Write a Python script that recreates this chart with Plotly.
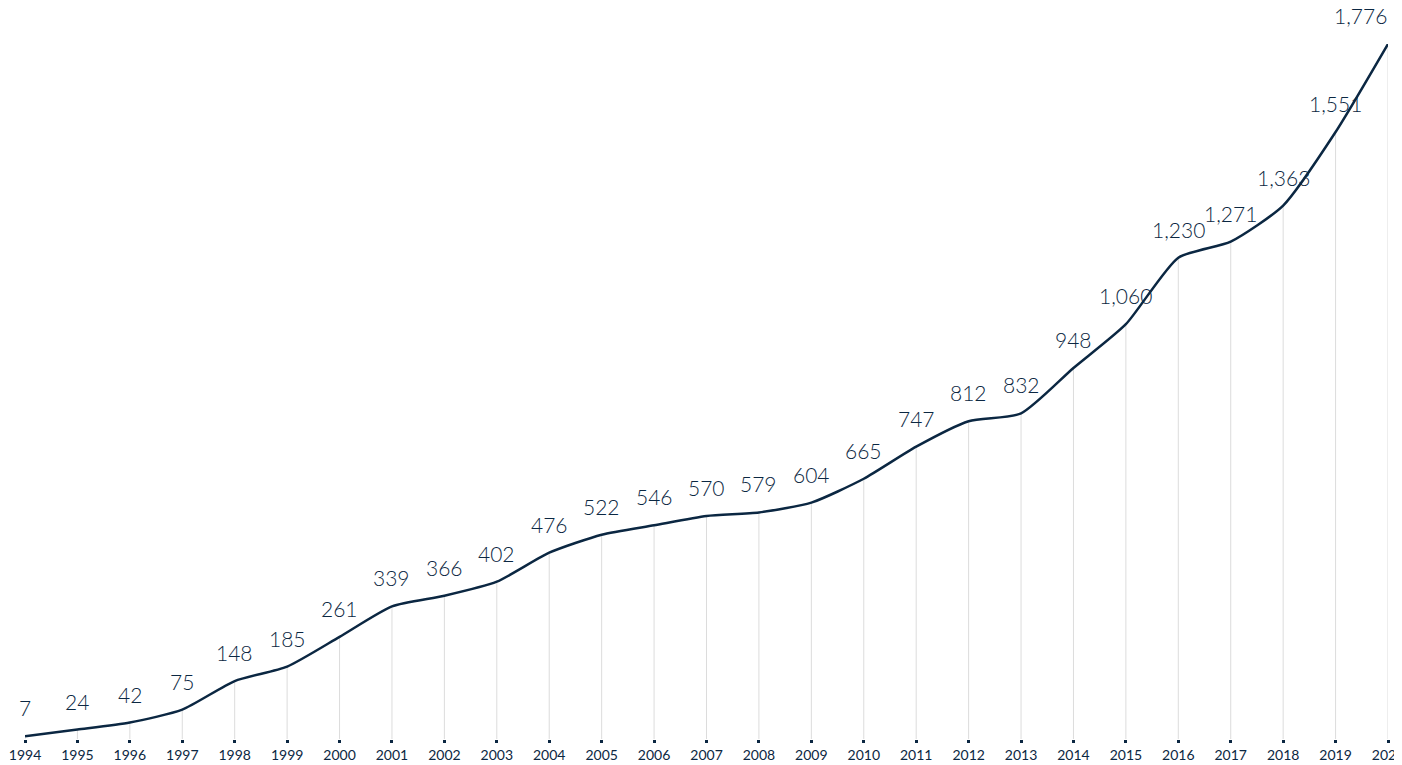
import plotly.graph_objects as go

years = list(range(1994, 2021))
values = [7, 24, 42, 75, 148, 185, 261, 339, 366, 402, 476, 522, 546, 570, 579, 604,
          665, 747, 812, 832, 948, 1060, 1230, 1271, 1363, 1551, 1776]
labels = [f"{v:,}" for v in values]

navy = "#0b2742"
fig = go.Figure()
fig.add_trace(go.Scatter(
    x=years, y=values, mode="markers", marker=dict(size=1, color="rgba(0,0,0,0)"),
    error_y=dict(type="data", symmetric=False, array=[0]*len(values), arrayminus=values,
                 width=0, thickness=1, color="#dcdcdc"),
    hoverinfo="skip", showlegend=False))
fig.add_trace(go.Scatter(
    x=years, y=values, mode="lines",
    line=dict(color=navy, width=2.5, shape="spline", smoothing=0.6),
    showlegend=False))
for i, (yr, v, t) in enumerate(zip(years, values, labels)):
    fig.add_annotation(x=yr, y=v, text=t, showarrow=False, yanchor="bottom",
                       yshift=14, xshift=(-28 if i == len(years) - 1 else 0),
                       font=dict(family="Lato", size=21, color=navy, weight=300))
fig.update_layout(
    width=1402, height=765, margin=dict(l=17, r=22, t=36, b=34),
    plot_bgcolor="white", paper_bgcolor="white",
    xaxis=dict(range=[1994, 2020], tickvals=years, ticktext=[str(y) for y in years],
               automargin=False,
               showgrid=False, zeroline=False, showline=False,
               ticks="outside", ticklen=3, tickwidth=3, tickcolor=navy,
               tickfont=dict(family="Lato", size=14, color=navy)),
    yaxis=dict(range=[0, 1776], visible=False, automargin=False),
)
fig.write_html("out.html")
